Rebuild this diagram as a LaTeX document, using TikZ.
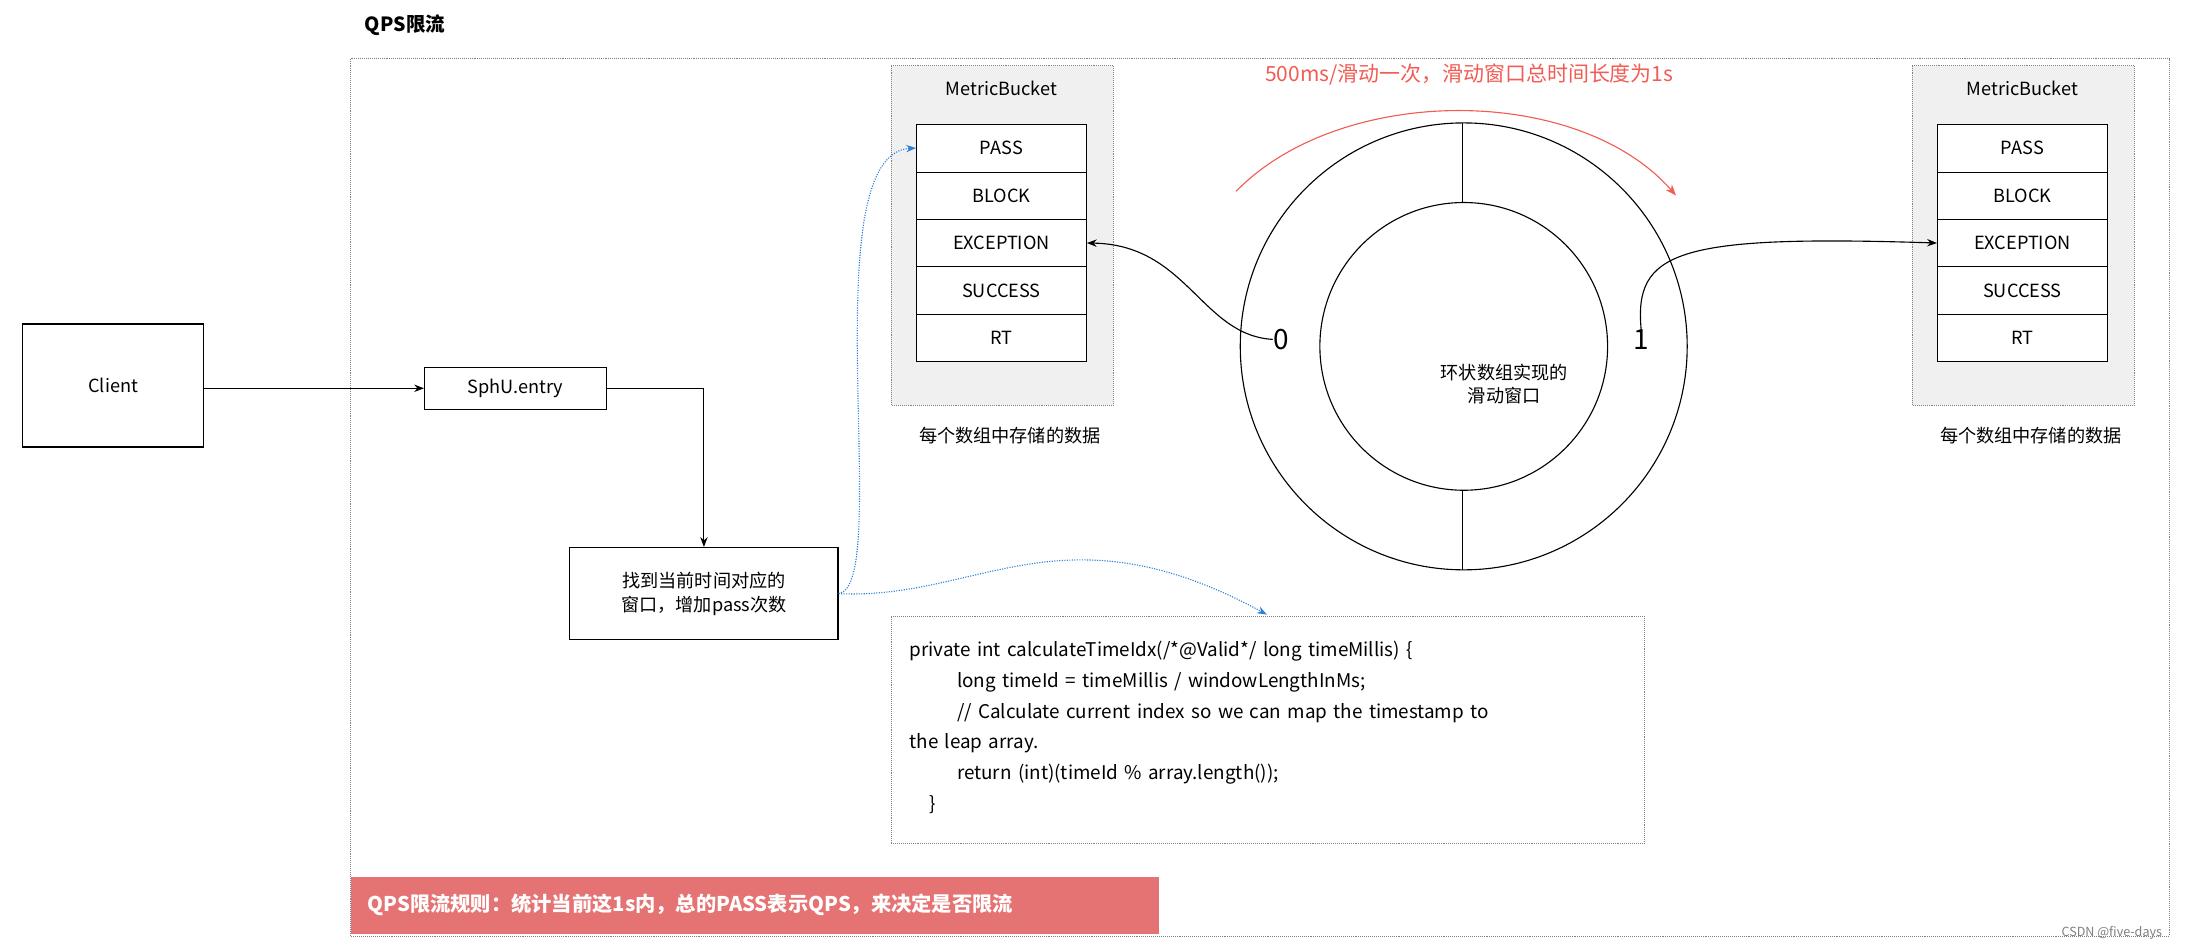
\documentclass[tikz,border=0pt]{standalone}
\usepackage{fontspec}
\setmainfont{Noto Sans CJK SC}
\usetikzlibrary{arrows.meta}
\definecolor{redbar}{HTML}{E57373}
\definecolor{arcred}{HTML}{F25C54}
\definecolor{blu}{HTML}{2F7FD8}
\begin{document}
\begin{tikzpicture}[x=1pt,y=-1pt,
  box/.style={draw,thick,minimum width=#1,inner sep=0pt,font=\fontsize{13}{17}\selectfont},
  cell/.style={draw,minimum width=122pt,minimum height=34pt,inner sep=0pt,font=\fontsize{13}{15}\selectfont},
  arr/.style={-{Stealth[length=7pt]},thick},
  dots/.style={blu,densely dotted,thick,-{Stealth[length=7pt]}},
  t/.style={font=\fontsize{13}{17}\selectfont,inner sep=0pt}]
\useasboundingbox (0,0) rectangle (1568,680);
\fill[white] (0,0) rectangle (1568,680);
\node[t,font=\fontsize{14}{16}\selectfont\bfseries] (title) at (290,18) {QPS限流};
\draw[densely dotted,gray] (251,42) rectangle (1553,670);
\node[box=130pt,minimum height=88pt] (client) at (81,276) {Client};
\node[box=130pt,minimum height=30pt] (sphu) at (369,278) {SphU.entry};
\node[box=192pt,minimum height=66pt,align=center] (find) at (504,425) {找到当前时间对应的\\窗口，增加pass次数};
\draw[arr] (client.east |- sphu) -- (sphu.west);
\draw[arr] (sphu.east) -| (find.north);
% buckets
\foreach \n/\x in {L/717,R/1448}{
  \draw[densely dotted,gray,fill=gray!12] (\x-79,47) rectangle (\x+80,290);
  \node[t] (\n title) at (\x,63) {MetricBucket};
  \node[cell,fill=white] (\n1) at (\x,106) {PASS};
  \node[cell,fill=white] (\n2) at (\x,140) {BLOCK};
  \node[cell,fill=white] (\n3) at (\x,174) {EXCEPTION};
  \node[cell,fill=white] (\n4) at (\x,208) {SUCCESS};
  \node[cell,fill=white] (\n5) at (\x,242) {RT};
  \node[t] (\n cap) at (\x+6,312) {每个数组中存储的数据};
}
% ring
\coordinate (c) at (1048,248);
\draw[thick] (c) circle (160pt);
\draw[thick] (c) circle (103pt);
\draw[thick] (1047,88) -- (1047,145);
\draw[thick] (1047,351) -- (1047,408);
\node[t,font=\fontsize{20}{22}\selectfont] (zero) at (917,243) {0};
\node[t,font=\fontsize{20}{22}\selectfont] (one) at (1175,243) {1};
\node[t,align=center] (ctext) at (1077,275) {环状数组实现的\\滑动窗口};
\draw[arr] (zero.west) .. controls (860,240) and (850,175) .. (L3.east);
\draw[arr] (one.north) .. controls (1170,180) and (1200,168) .. (R3.west);
% red arc
\draw[arcred,thick,-{Stealth[length=8pt]}] (885,137) .. controls (960,60) and (1130,60) .. (1200,140);
\node[t,text=arcred,font=\fontsize{15}{17}\selectfont] (rtext) at (1052,53) {500ms/滑动一次，滑动窗口总时间长度为1s};
% code
\node[draw,densely dotted,gray,minimum width=539pt,minimum height=163pt] (code) at (907.5,522.5) {};
\node[t,anchor=north west,align=left,text width=515pt,font=\fontsize{13.5}{22}\selectfont] (codetext) at (651,459) {private int calculateTimeIdx(/*@Valid*/ long timeMillis) \{\\
\hspace*{34pt}long timeId = timeMillis / windowLengthInMs;\\
\hspace*{34pt}// Calculate current index so we can map the timestamp to\\
the leap array.\\
\hspace*{34pt}return (int)(timeId \% array.length());\\
\hspace*{14pt}\}};
\draw[dots] (find.east) .. controls (640,420) and (580,110) .. (L1.west);
\draw[dots] (find.east) .. controls (700,430) and (760,360) .. (907,440);
% red bar
\fill[redbar] (251,628) rectangle (830,669);
\node[t,anchor=west,text=white,font=\fontsize{14.5}{17}\selectfont\bfseries] (rule) at (263,648) {QPS限流规则：统计当前这1s内，总的PASS表示QPS，来决定是否限流};
\node[t,text=gray,font=\fontsize{9}{10}\selectfont] (wm) at (1512,668) {CSDN @five-days};
\end{tikzpicture}
\end{document}
